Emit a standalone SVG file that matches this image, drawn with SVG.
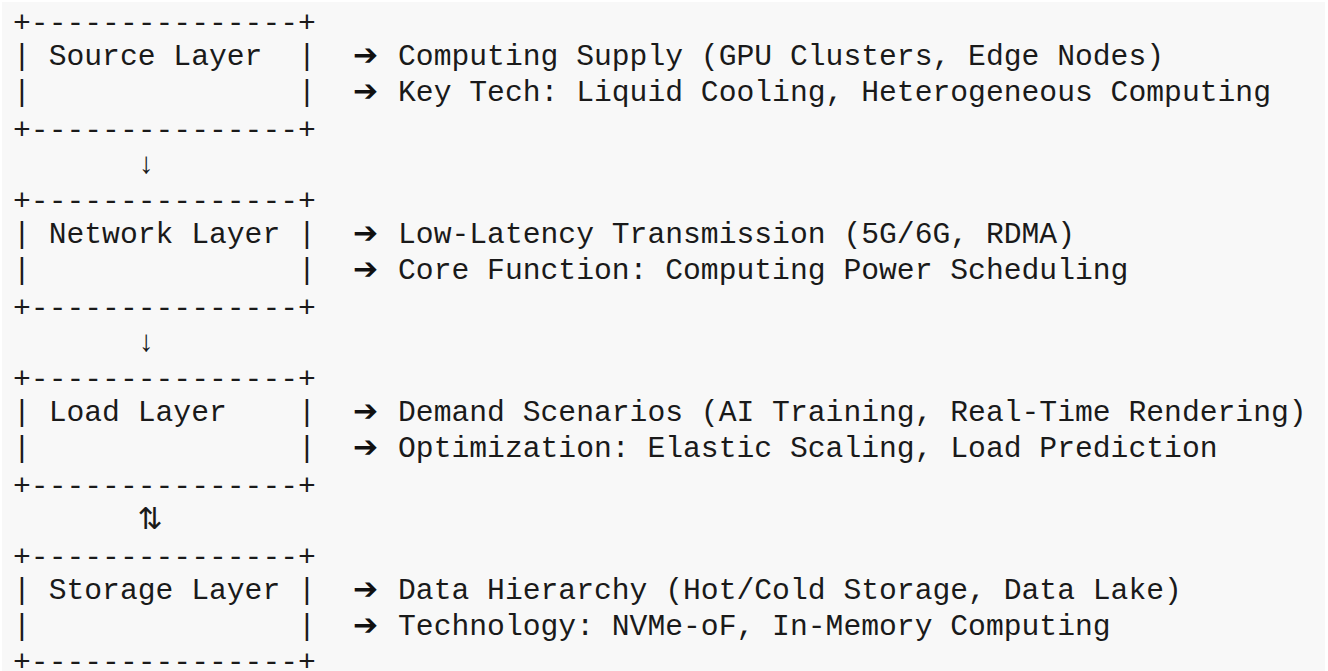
<svg xmlns="http://www.w3.org/2000/svg" width="1328" height="671" viewBox="0 0 1328 671">
  <style>
    .m { font-family: "Liberation Mono", "Courier New", monospace; font-size: 29.7px; fill: #1a1a1a; white-space: pre; }
    .a { font-family: "DejaVu Sans", sans-serif; font-size: 30px; fill: #111; }
    .c { font-family: "Liberation Mono", "DejaVu Sans Mono", monospace; font-size: 29.7px; fill: #1a1a1a; text-anchor: middle; }
    .c2 { font-family: "DejaVu Sans", sans-serif; font-size: 30px; fill: #1a1a1a; text-anchor: middle; }
  </style>
  <rect x="0" y="0" width="1328" height="671" fill="#ffffff"/>
  <rect x="2" y="2" width="1323" height="669" fill="#f8f8f8"/>

  <g id="source-layer">
    <text class="m" x="13" y="31.8" xml:space="preserve">+---------------+</text>
    <text class="m" x="13" y="65" xml:space="preserve">| Source Layer  |</text>
    <text class="m" x="13" y="100.6" xml:space="preserve">|               |</text>
    <text class="m" x="13" y="138.6" xml:space="preserve">+---------------+</text>
    <text class="a" x="353" y="65">➔</text>
    <text class="m" x="398" y="65">Computing Supply (GPU Clusters, Edge Nodes)</text>
    <text class="a" x="353" y="100.6">➔</text>
    <text class="m" x="398" y="100.6">Key Tech: Liquid Cooling, Heterogeneous Computing</text>
  </g>

  <g id="network-layer">
    <text class="m" x="13" y="209.8" xml:space="preserve">+---------------+</text>
    <text class="m" x="13" y="243" xml:space="preserve">| Network Layer |</text>
    <text class="m" x="13" y="278.6" xml:space="preserve">|               |</text>
    <text class="m" x="13" y="316.6" xml:space="preserve">+---------------+</text>
    <text class="a" x="353" y="243">➔</text>
    <text class="m" x="398" y="243">Low-Latency Transmission (5G/6G, RDMA)</text>
    <text class="a" x="353" y="278.6">➔</text>
    <text class="m" x="398" y="278.6">Core Function: Computing Power Scheduling</text>
  </g>

  <g id="load-layer">
    <text class="m" x="13" y="387.8" xml:space="preserve">+---------------+</text>
    <text class="m" x="13" y="421" xml:space="preserve">| Load Layer    |</text>
    <text class="m" x="13" y="456.6" xml:space="preserve">|               |</text>
    <text class="m" x="13" y="494.6" xml:space="preserve">+---------------+</text>
    <text class="a" x="353" y="421">➔</text>
    <text class="m" x="398" y="421">Demand Scenarios (AI Training, Real-Time Rendering)</text>
    <text class="a" x="353" y="456.6">➔</text>
    <text class="m" x="398" y="456.6">Optimization: Elastic Scaling, Load Prediction</text>
  </g>

  <g id="storage-layer">
    <text class="m" x="13" y="565.8" xml:space="preserve">+---------------+</text>
    <text class="m" x="13" y="599" xml:space="preserve">| Storage Layer |</text>
    <text class="m" x="13" y="634.6" xml:space="preserve">|               |</text>
    <text class="m" x="13" y="671" xml:space="preserve">+---------------+</text>
    <text class="a" x="353" y="599">➔</text>
    <text class="m" x="398" y="599">Data Hierarchy (Hot/Cold Storage, Data Lake)</text>
    <text class="a" x="353" y="634.6">➔</text>
    <text class="m" x="398" y="634.6">Technology: NVMe-oF, In-Memory Computing</text>
  </g>

  <g id="connectors">
    <text class="c" x="146.5" y="173">↓</text>
    <text class="c" x="146.5" y="351">↓</text>
    <text class="c2" x="150" y="529">⇅</text>
  </g>
</svg>
